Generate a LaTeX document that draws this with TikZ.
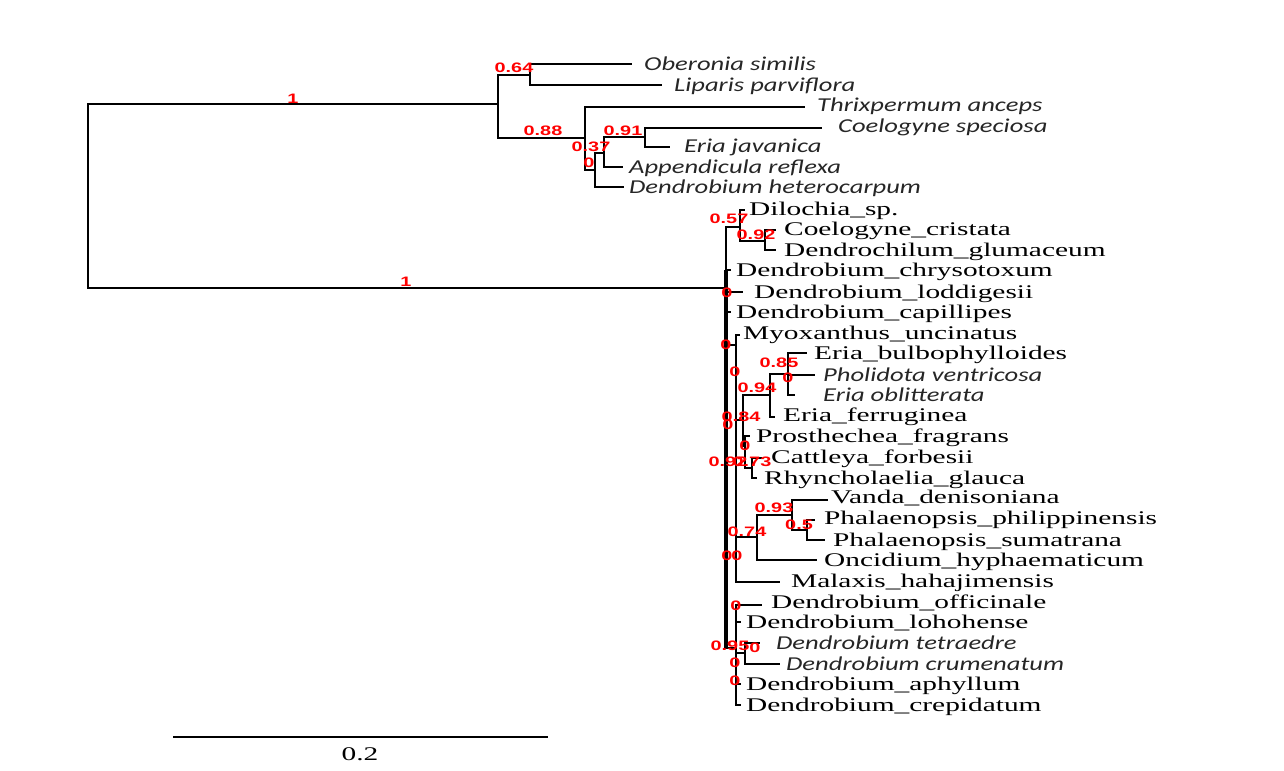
\documentclass[tikz,border=0pt]{standalone}
\usepackage{fontspec}
\newfontfamily\taxfont{Liberation Serif}[FakeStretch=1.52]
\newfontfamily\spfont{Carlito}[FakeStretch=1.35]
\newfontfamily\bsfont{Liberation Sans}[FakeStretch=1.45]

\begin{document}
\begin{tikzpicture}[x=0.1mm,y=-0.1mm,line width=0.65pt,
  taxon/.style={anchor=west,inner sep=0pt,text height=3.6pt,text depth=0pt,
    font=\taxfont\fontsize{5.5}{6}\selectfont},
  species/.style={taxon,text=black!85,font=\spfont\itshape\fontsize{5.6}{6}\selectfont},
  support/.style={inner sep=0pt,text height=2.8pt,text depth=0pt,text=red,
    font=\bsfont\bfseries\fontsize{3.9}{4}\selectfont}]

  \useasboundingbox (0,0) rectangle (1284,770);

  % internal nodes
  \coordinate (root) at (88,196);
  \coordinate (top) at (498,104);
  \coordinate (low) at (726,288);
  \coordinate (n064) at (530,75);
  \coordinate (n088) at (585,138);
  \coordinate (n0) at (595,170);
  \coordinate (n037) at (604,153);
  \coordinate (n091) at (645,137);
  \coordinate (n057) at (740,227);
  \coordinate (n092) at (765,241);
  \coordinate (nA) at (736,345);
  \coordinate (n084) at (743,420);
  \coordinate (n094) at (770,395);
  \coordinate (n085) at (788,374);
  \coordinate (nP) at (745,446);
  \coordinate (n073) at (752,468);
  \coordinate (n074) at (757,537);
  \coordinate (n093) at (792,515);
  \coordinate (n05) at (807,530);
  \coordinate (nD) at (736,648);
  \coordinate (n095) at (745,653);

  % tips
  \coordinate (oberonia) at (632,64);
  \coordinate (liparis) at (662,85);
  \coordinate (thrix) at (805,107);
  \coordinate (coelsp) at (822,128);
  \coordinate (eriajav) at (670,147);
  \coordinate (append) at (623,167);
  \coordinate (dendhet) at (624,187);
  \coordinate (dilochia) at (745,210);
  \coordinate (coelcr) at (776,230);
  \coordinate (dendrochil) at (776,250);
  \coordinate (chryso) at (731,270);
  \coordinate (lodd) at (743,292);
  \coordinate (capill) at (731,312);
  \coordinate (myox) at (740,335);
  \coordinate (eriabulb) at (807,353);
  \coordinate (pholid) at (815,375);
  \coordinate (eriaobl) at (795,395);
  \coordinate (eriaferr) at (775,417);
  \coordinate (prosth) at (750,436);
  \coordinate (cattleya) at (762,458);
  \coordinate (rhyncho) at (757,478);
  \coordinate (vanda) at (828,500);
  \coordinate (phalphil) at (815,520);
  \coordinate (phalsum) at (825,540);
  \coordinate (oncid) at (817,560);
  \coordinate (malaxis) at (780,582);
  \coordinate (offic) at (762,605);
  \coordinate (lohoh) at (741,622);
  \coordinate (tetra) at (760,643);
  \coordinate (crumen) at (780,664);
  \coordinate (aphyl) at (741,684);
  \coordinate (crepid) at (741,705);

  % branches
  \draw[line width=0.8pt] (root) |- (top);
  \draw[line width=0.8pt] (root) |- (low);
  \draw (top) |- (n064);
  \draw (top) |- (n088);
  \draw (n064) |- (oberonia);
  \draw (n064) |- (liparis);
  \draw (n088) |- (thrix);
  \draw (n088) |- (n0);
  \draw (n0) |- (n037);
  \draw (n0) |- (dendhet);
  \draw (n037) |- (n091);
  \draw (n037) |- (append);
  \draw (n091) |- (coelsp);
  \draw (n091) |- (eriajav);

  \draw (low) |- (n057);
  \draw (low) |- (chryso);
  \draw (low) |- (lodd);
  \draw (low) |- (capill);
  \draw (low) |- (nA);
  \draw (low) |- (nD);
  \draw[line width=1.3pt] (low |- chryso) -- (low |- nD);
  \draw (n057) |- (dilochia);
  \draw (n057) |- (n092);
  \draw (n092) |- (coelcr);
  \draw (n092) |- (dendrochil);
  \draw (nA) |- (myox);
  \draw (nA) |- (n084);
  \draw (nA) |- (n074);
  \draw (nA) |- (malaxis);
  \draw (n084) |- (n094);
  \draw (n084) |- (nP);
  \draw (n094) |- (n085);
  \draw (n094) |- (eriaferr);
  \draw (n085) |- (eriabulb);
  \draw (n085) |- (pholid);
  \draw (n085) |- (eriaobl);
  \draw (nP) |- (prosth);
  \draw (nP) |- (n073);
  \draw (n073) |- (cattleya);
  \draw (n073) |- (rhyncho);
  \draw (n074) |- (n093);
  \draw (n074) |- (oncid);
  \draw (n093) |- (vanda);
  \draw (n093) |- (n05);
  \draw (n05) |- (phalphil);
  \draw (n05) |- (phalsum);
  \draw (nD) |- (offic);
  \draw (nD) |- (lohoh);
  \draw (nD) |- (n095);
  \draw (nD) |- (aphyl);
  \draw (nD) |- (crepid);
  \draw (n095) |- (tetra);
  \draw (n095) |- (crumen);

  % taxa
  \node[species] (oberonia txt) at (643,64) {Oberonia similis};
  \node[species] (liparis txt) at (673,85) {Liparis parviflora};
  \node[species] (thrix txt) at (816,105) {Thrixpermum anceps};
  \node[species] (coelsp txt) at (837,126) {Coelogyne speciosa};
  \node[species] (eriajav txt) at (683,146) {Eria javanica};
  \node[species] (append txt) at (628,167) {Appendicula reflexa};
  \node[species] (dendhet txt) at (628,187) {Dendrobium heterocarpum};
  \node[taxon] (dilochia txt) at (748,209) {Dilochia\_sp.};
  \node[taxon] (coelcr txt) at (783,229) {Coelogyne\_cristata};
  \node[taxon] (dendrochil txt) at (783,250) {Dendrochilum\_glumaceum};
  \node[taxon] (chryso txt) at (735,270) {Dendrobium\_chrysotoxum};
  \node[taxon] (lodd txt) at (753,292) {Dendrobium\_loddigesii};
  \node[taxon] (capill txt) at (735,312) {Dendrobium\_capillipes};
  \node[taxon] (myox txt) at (742,333) {Myoxanthus\_uncinatus};
  \node[taxon] (eriabulb txt) at (813,353) {Eria\_bulbophylloides};
  \node[species] (pholid txt) at (822,375) {Pholidota ventricosa};
  \node[species] (eriaobl txt) at (822,395) {Eria oblitterata};
  \node[taxon] (eriaferr txt) at (782,415) {Eria\_ferruginea};
  \node[taxon] (prosth txt) at (755,436) {Prosthechea\_fragrans};
  \node[taxon] (cattleya txt) at (770,457) {Cattleya\_forbesii};
  \node[taxon] (rhyncho txt) at (763,478) {Rhyncholaelia\_glauca};
  \node[taxon] (vanda txt) at (830,497) {Vanda\_denisoniana};
  \node[taxon] (phalphil txt) at (823,518) {Phalaenopsis\_philippinensis};
  \node[taxon] (phalsum txt) at (832,540) {Phalaenopsis\_sumatrana};
  \node[taxon] (oncid txt) at (823,560) {Oncidium\_hyphaematicum};
  \node[taxon] (malaxis txt) at (790,581) {Malaxis\_hahajimensis};
  \node[taxon] (offic txt) at (770,602) {Dendrobium\_officinale};
  \node[taxon] (lohoh txt) at (745,622) {Dendrobium\_lohohense};
  \node[species] (tetra txt) at (775,643) {Dendrobium tetraedre};
  \node[species] (crumen txt) at (785,664) {Dendrobium crumenatum};
  \node[taxon] (aphyl txt) at (745,684) {Dendrobium\_aphyllum};
  \node[taxon] (crepid txt) at (745,705) {Dendrobium\_crepidatum};

  % support values
  \node[support] (s1) at (293,99) {1};
  \node[support] (s2) at (406,282) {1};
  \node[support] (s3) at (514,68) {0.64};
  \node[support] (s4) at (543,131) {0.88};
  \node[support] (s5) at (623,131) {0.91};
  \node[support] (s6) at (591,147) {0.37};
  \node[support] (s7) at (589,163) {0};
  \node[support] (s8) at (729,219) {0.57};
  \node[support] (s9) at (756,235) {0.92};
  \node[support] (s10) at (727,293) {0};
  \node[support] (s11) at (726,345) {0};
  \node[support] (s12) at (735,372) {0};
  \node[support] (s13) at (779,363) {0.85};
  \node[support] (s14) at (788,378) {0};
  \node[support] (s15) at (757,388) {0.94};
  \node[support] (s16) at (741,417) {0.84};
  \node[support] (s17) at (728,425) {0};
  \node[support] (s18) at (745,446) {0};
  \node[support] (s19) at (728,462) {0.92};
  \node[support] (s20) at (752,462) {0.73};
  \node[support] (s21) at (774,508) {0.93};
  \node[support] (s22) at (799,525) {0.5};
  \node[support] (s23) at (747,532) {0.74};
  \node[support] (s24) at (727,556) {0};
  \node[support] (s25) at (737,556) {0};
  \node[support] (s26) at (736,606) {0};
  \node[support] (s27) at (730,646) {0.95};
  \node[support] (s28) at (755,648) {0};
  \node[support] (s29) at (735,663) {0};
  \node[support] (s30) at (735,681) {0};

  % scale bar
  \coordinate (bar left) at (173,737);
  \coordinate (bar right) at (548,737);
  \draw (bar left) -- (bar right);
  \node[taxon,anchor=center] (bar label) at (360,754) {0.2};
\end{tikzpicture}
\end{document}
